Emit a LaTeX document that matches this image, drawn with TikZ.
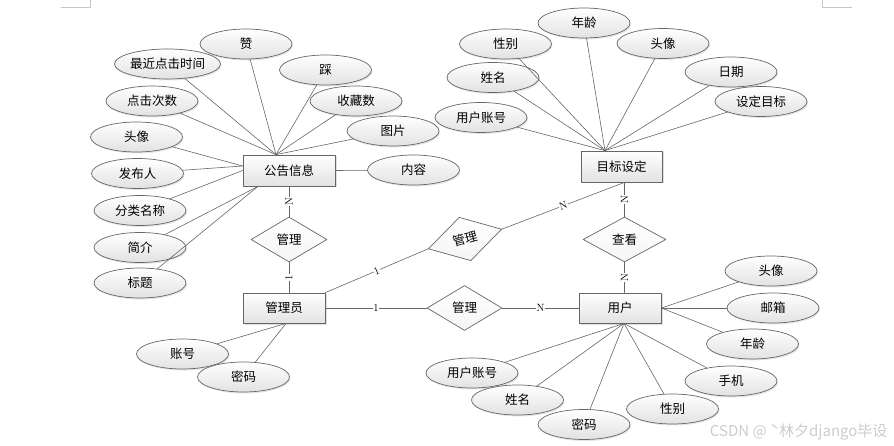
\documentclass[tikz,border=0pt]{standalone}
\usepackage{fontspec}
\newfontfamily\cjk{Noto Sans CJK SC}
\usetikzlibrary{shapes.geometric,shadows,calc}
\definecolor{edgegray}{HTML}{666666}
\definecolor{fillgray}{HTML}{E2E2E2}
\tikzset{
  entity/.style={draw=edgegray, line width=0.8pt, top color=white, bottom color=fillgray,
    minimum width=82pt, minimum height=30pt, inner sep=1pt, font=\cjk\fontsize{12.5}{14}\selectfont,
    drop shadow={opacity=0.25, shadow xshift=1.5pt, shadow yshift=-1.5pt}},
  attr/.style={ellipse, draw=edgegray, line width=0.7pt, top color=white, bottom color=fillgray,
    minimum width=92pt, minimum height=30pt, inner sep=0pt, font=\cjk\fontsize{12.5}{14}\selectfont,
    drop shadow={opacity=0.2, shadow xshift=1pt, shadow yshift=-1.5pt}},
  rel/.style={diamond, draw=edgegray, line width=0.7pt, top color=white, bottom color=gray!8,
    minimum width=76pt, minimum height=45pt, inner sep=1pt, font=\cjk\fontsize{12.5}{14}\selectfont},
  card/.style={fill=white, inner sep=0.6pt, font=\fontsize{10.5}{11}\selectfont},
  link/.style={draw=edgegray, line width=0.6pt}
}
\begin{document}
\begin{tikzpicture}[x=1pt, y=-1pt, line join=round, line cap=round]
\useasboundingbox (0,0) rectangle (894,446);
\draw[gray!45, line width=0.8pt] (61,7)--(90,7)--(90,0);
\draw[gray!45, line width=0.8pt] (822,0)--(822,7)--(852,7);

\node[entity, minimum width=92pt, minimum height=31pt] (gg) at (289,170.5) {公告信息};
\node[entity, minimum width=81pt, minimum height=31pt] (mb) at (621.5,166.5) {目标设定};
\node[entity] (gly) at (284,308) {管理员};
\node[entity] (yh) at (620,308) {用户};

\node[rel] (gl1) at (289,239.5) {管理};
\node[rel, rotate=15] (gl2) at (465,239) {管理};
\node[rel, minimum width=83pt] (ck) at (624.5,239.5) {查看};
\node[rel, minimum width=75pt] (gl3) at (464.5,308) {管理};

\coordinate (ggtop) at ($(gg.north)+(-13,0)$);
\coordinate (ggleft) at ($(gg.west)+(0,-4.5)$);
\coordinate (ggbot) at ($(gg.south)+(-31,0)$);
\coordinate (mbtop) at ($(mb.north)+(-16.5,0)$);
\coordinate (glybot) at ($(gly.south)+(2,0)$);
\coordinate (yhbot) at ($(yh.south)+(4,0)$);

\node[attr] (zan) at (246,44) {赞};
\node[attr] (zjdj) at (167.5,64) {最近点击时间};
\node[attr] (cai) at (325.5,70) {踩};
\node[attr] (djcs) at (152,101) {点击次数};
\node[attr] (scs) at (356,101) {收藏数};
\node[attr] (tp) at (393,131) {图片};
\node[attr] (tx) at (136.5,137) {头像};
\node[attr] (fbr) at (137.5,173.5) {发布人};
\node[attr] (flmc) at (140,210.5) {分类名称};
\node[attr] (jj) at (140,247.5) {简介};
\node[attr] (bt) at (140,283) {标题};
\node[attr] (nr) at (413.5,170) {内容};

\node[attr] (xb) at (505.5,44) {性别};
\node[attr] (nl) at (584,23) {年龄};
\node[attr] (txb) at (663,43.5) {头像};
\node[attr] (xm) at (493,77.5) {姓名};
\node[attr] (rq) at (731,72) {日期};
\node[attr] (yhzh) at (481,117.5) {用户账号};
\node[attr] (sdmb) at (761,101.5) {设定目标};

\node[attr] (zh) at (182.5,354) {账号};
\node[attr] (mm) at (243.5,377) {密码};

\node[attr] (txc) at (771,271) {头像};
\node[attr] (yx) at (773,308) {邮箱};
\node[attr] (nlc) at (752.5,344) {年龄};
\node[attr] (sj) at (731,381) {手机};
\node[attr] (xbc) at (672.5,409) {性别};
\node[attr] (mmc) at (584,424.5) {密码};
\node[attr] (xmc) at (517.5,400) {姓名};
\node[attr] (yhzhc) at (472,373) {用户账号};

\foreach \a in {zan,zjdj,cai,djcs,scs,tp} \draw[link] (\a)--(ggtop);
\foreach \a in {tx,fbr} \draw[link] (\a)--(ggleft);
\draw[link] (flmc)--(gg.west);
\foreach \a in {jj,bt} \draw[link] (\a)--(ggbot);
\draw[link] (nr)--(gg.east);
\foreach \a in {xb,nl,txb,xm,rq,yhzh,sdmb} \draw[link] (\a)--(mbtop);
\foreach \a in {zh,mm} \draw[link] (\a)--(glybot);
\foreach \a in {txc,yx,nlc} \draw[link] (\a)--(yh.east);
\foreach \a in {sj,xbc,mmc,xmc,yhzhc} \draw[link] (\a)--(yhbot);

\draw[link] (gl1 |- gg.south)--(gl1) node[card, midway, rotate=90]{N};
\draw[link] (gl1)--(gl1 |- gly.north) node[card, midway, rotate=90]{1};
\draw[link] (gly.north east)--(gl2.west) node[card, midway, sloped]{1};
\draw[link] (gl2.east)--(ck |- mb.south) node[card, midway, sloped]{N};
\draw[link] (ck |- mb.south)--(ck) node[card, midway, rotate=90]{N};
\draw[link] (ck)--(ck |- yh.north) node[card, midway, rotate=90]{N};
\draw[link] (gly.east)--(gl3.west) node[card, midway]{1};
\draw[link] (gl3.east)--(yh.west) node[card, midway]{N};

\node[font=\cjk\fontsize{15}{16}\selectfont, text=gray!40, anchor=east] (wm) at (891,432) {CSDN @ ˋ林夕django毕设};
\end{tikzpicture}
\end{document}
